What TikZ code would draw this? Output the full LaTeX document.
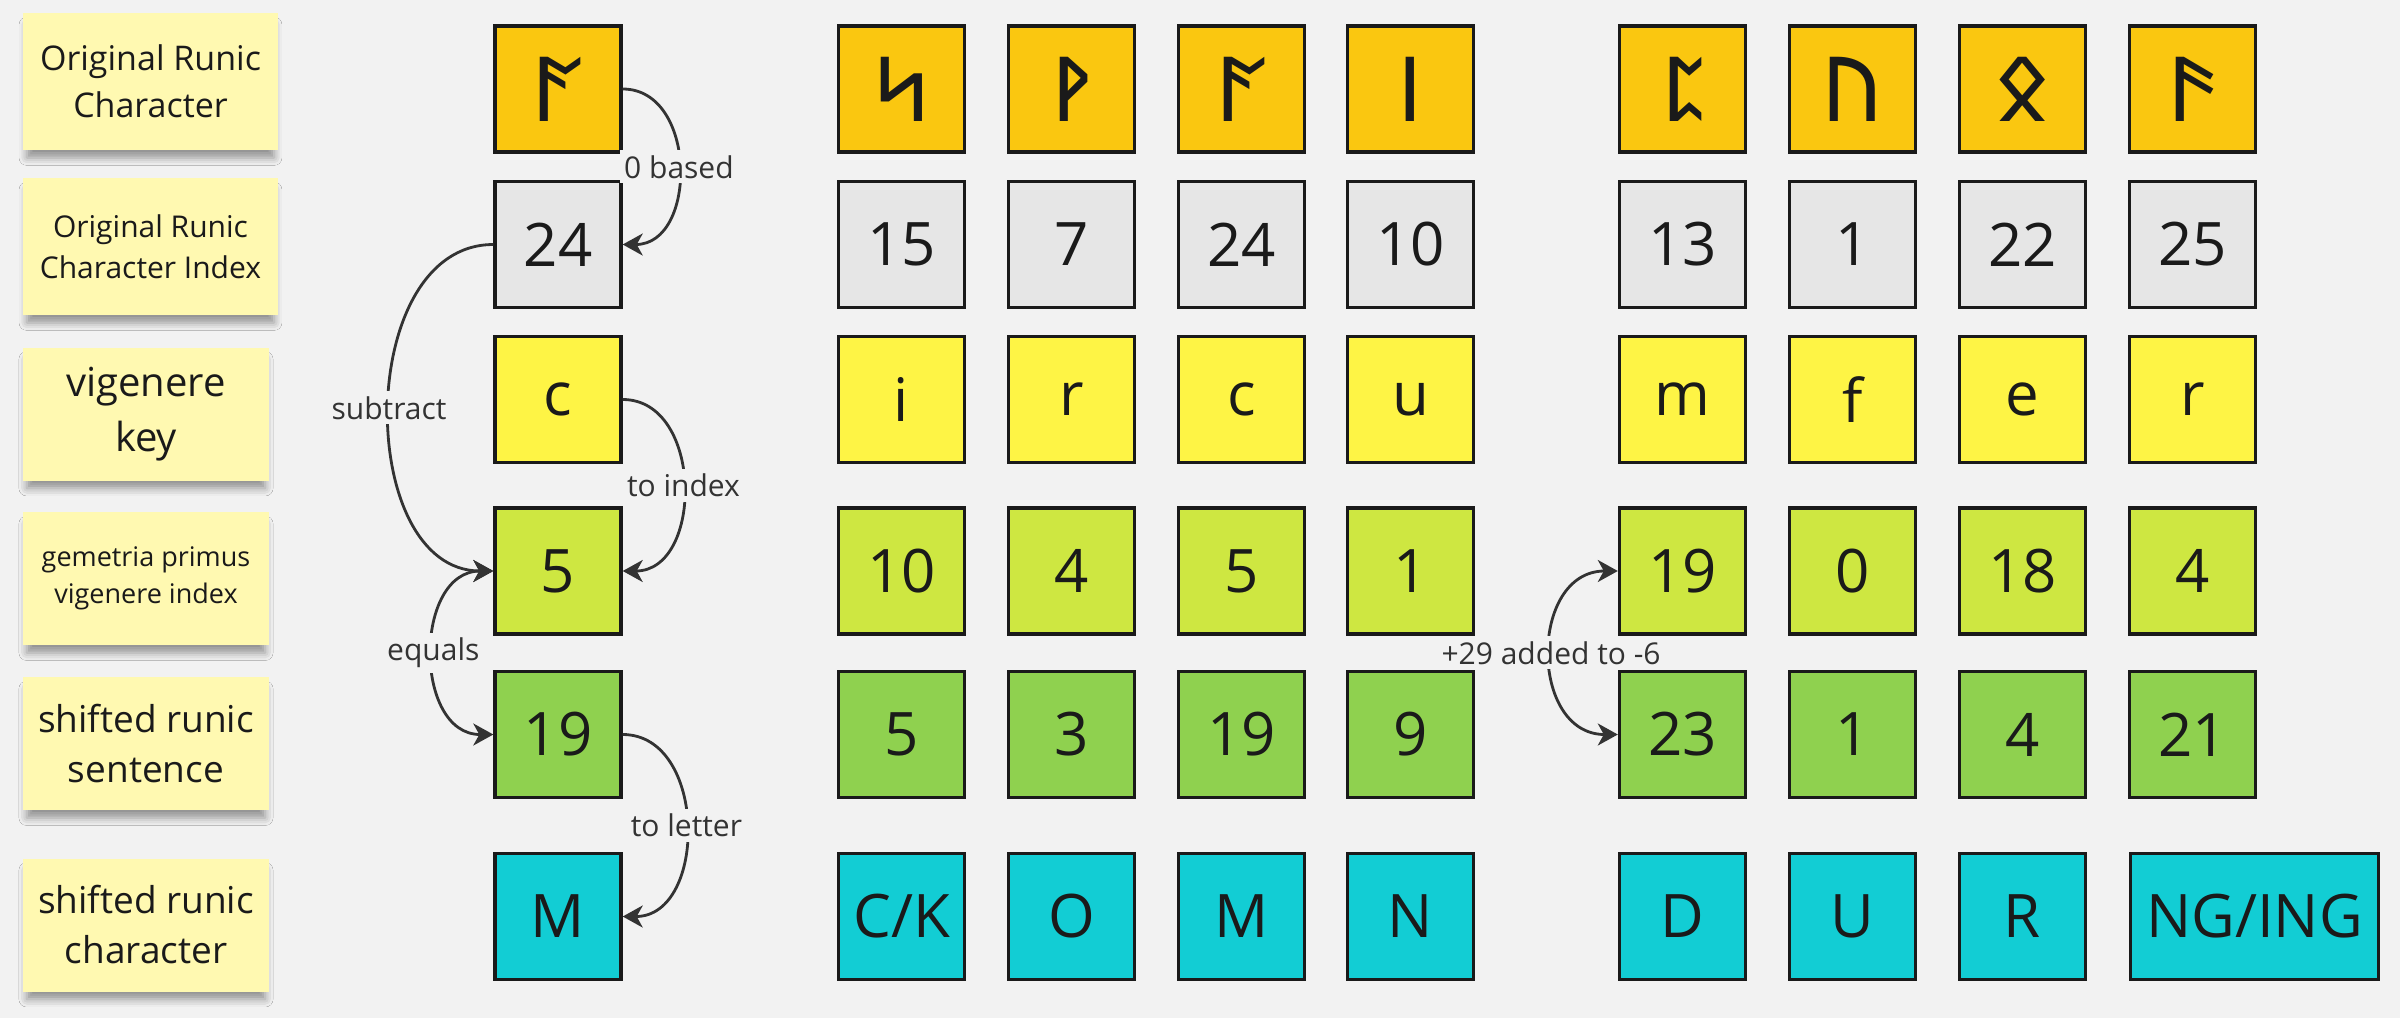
\documentclass[tikz,border=0pt]{standalone}
\usepackage{fontspec}
\setmainfont{Open Sans}
\IfFontExistsTF{Noto Sans Runic}{\newfontfamily\runefont{Noto Sans Runic}}{\newfontfamily\runefont{DejaVu Sans}}
\usetikzlibrary{arrows.meta,shadows.blur}

\definecolor{canvas}{HTML}{F2F2F2}
\definecolor{sticky}{HTML}{FFF9B1}
\definecolor{runeorange}{HTML}{FAC710}
\definecolor{idxgrey}{HTML}{E6E6E6}
\definecolor{keyyellow}{HTML}{FEF445}
\definecolor{gplime}{HTML}{CEE741}
\definecolor{shiftgreen}{HTML}{8FD14F}
\definecolor{lettercyan}{HTML}{12CDD4}
\definecolor{ink}{HTML}{1A1A1A}
\definecolor{wire}{HTML}{333333}

\tikzset{
  tile/.style={draw=ink, line width=1.7pt, minimum width=63pt, minimum height=63pt, inner sep=0pt, text=ink, font=\fontsize{30}{36}\selectfont},
  runetile/.style={tile, fill=runeorange, font=\runefont\fontsize{45}{50}\selectfont},
  idxtile/.style={tile, fill=idxgrey},
  keytile/.style={tile, fill=keyyellow},
  gptile/.style={tile, fill=gplime},
  shifttile/.style={tile, fill=shiftgreen},
  lettertile/.style={tile, fill=lettercyan},
  note/.style={fill=sticky, align=center, text=ink, inner sep=0pt, minimum width=123pt, minimum height=66.5pt,
    blur shadow={shadow xshift=0pt, shadow yshift=-5pt, shadow blur radius=4pt, shadow opacity=40, shadow scale=0.97}},
  widenote/.style={note, minimum width=127.5pt, minimum height=68.5pt},
  link/.style={draw=wire, line width=1.4pt, -{Stealth[length=10pt,width=11pt,inset=3pt]}},
  twolink/.style={link, {Stealth[length=10pt,width=11pt,inset=3pt]}-{Stealth[length=10pt,width=11pt,inset=3pt]}},
  linklabel/.style={fill=canvas, text=wire, font=\fontsize{15}{18}\selectfont, inner xsep=2pt, inner ysep=2.5pt},
}

\begin{document}
\begin{tikzpicture}[x=0.5pt, y=-0.5pt]
  %%%%% START %%%%%

  \useasboundingbox (0,0) rectangle (2400,1018);
  \fill[canvas] (0,0) rectangle (2400,1018);

  % row captions
  \node[widenote, font=\fontsize{17}{23.5}\selectfont] (noteRune) at (150.5,81.5) {Original Runic\\Character};
  \node[widenote, font=\fontsize{15}{20.5}\selectfont] (noteIdx) at (150.5,246.5) {Original Runic\\Character Index};
  \node[note, font=\fontsize{20}{27.5}\selectfont] (noteKey) at (146,414) {vigenere\\key};
  \node[note, font=\fontsize{13.5}{18.5}\selectfont] (noteGp) at (146,578.5) {gemetria primus\\vigenere index};
  \node[note, font=\fontsize{18.5}{25}\selectfont] (noteSft) at (146,743.5) {shifted runic\\sentence};
  \node[note, font=\fontsize{18.5}{25}\selectfont] (noteLtr) at (146,925) {shifted runic\\character};

  % worked example
  \node[runetile] (rune0) at (558,89) {ᚪ};
  \node[idxtile] (idx0) at (558,244.5) {24};
  \node[keytile] (key0) at (558,399.5) {c};
  \node[gptile] (gpi0) at (558,571) {5};
  \node[shifttile] (sft0) at (558,734.5) {19};
  \node[lettertile] (ltr0) at (558,916.5) {M};

  % first word
  \node[runetile] (rune1) at (901.5,89) {ᛋ};
  \node[runetile] (rune2) at (1071.5,89) {ᚹ};
  \node[runetile] (rune3) at (1241.5,89) {ᚪ};
  \node[runetile] (rune4) at (1410.5,89) {ᛁ};
  \node[idxtile] (idx1) at (901.5,244.5) {15};
  \node[idxtile] (idx2) at (1071.5,244.5) {7};
  \node[idxtile] (idx3) at (1241.5,244.5) {24};
  \node[idxtile] (idx4) at (1410.5,244.5) {10};
  \node[keytile] (key1) at (901.5,399.5) {i};
  \node[keytile] (key2) at (1071.5,399.5) {r};
  \node[keytile] (key3) at (1241.5,399.5) {c};
  \node[keytile] (key4) at (1410.5,399.5) {u};
  \node[gptile] (gpi1) at (901.5,571) {10};
  \node[gptile] (gpi2) at (1071.5,571) {4};
  \node[gptile] (gpi3) at (1241.5,571) {5};
  \node[gptile] (gpi4) at (1410.5,571) {1};
  \node[shifttile] (sft1) at (901.5,734.5) {5};
  \node[shifttile] (sft2) at (1071.5,734.5) {3};
  \node[shifttile] (sft3) at (1241.5,734.5) {19};
  \node[shifttile] (sft4) at (1410.5,734.5) {9};
  \node[lettertile] (ltr1) at (901.5,916.5) {C/K};
  \node[lettertile] (ltr2) at (1071.5,916.5) {O};
  \node[lettertile] (ltr3) at (1241.5,916.5) {M};
  \node[lettertile] (ltr4) at (1410.5,916.5) {N};

  % second word
  \node[runetile] (rune5) at (1682.5,89) {ᛈ};
  \node[runetile] (rune6) at (1852.5,89) {ᚢ};
  \node[runetile] (rune7) at (2022.5,89) {ᛟ};
  \node[runetile] (rune8) at (2192.5,89) {ᚫ};
  \node[idxtile] (idx5) at (1682.5,244.5) {13};
  \node[idxtile] (idx6) at (1852.5,244.5) {1};
  \node[idxtile] (idx7) at (2022.5,244.5) {22};
  \node[idxtile] (idx8) at (2192.5,244.5) {25};
  \node[keytile] (key5) at (1682.5,399.5) {m};
  \node[keytile] (key6) at (1852.5,399.5) {f};
  \node[keytile] (key7) at (2022.5,399.5) {e};
  \node[keytile] (key8) at (2192.5,399.5) {r};
  \node[gptile] (gpi5) at (1682.5,571) {19};
  \node[gptile] (gpi6) at (1852.5,571) {0};
  \node[gptile] (gpi7) at (2022.5,571) {18};
  \node[gptile] (gpi8) at (2192.5,571) {4};
  \node[shifttile] (sft5) at (1682.5,734.5) {23};
  \node[shifttile] (sft6) at (1852.5,734.5) {1};
  \node[shifttile] (sft7) at (2022.5,734.5) {4};
  \node[shifttile] (sft8) at (2192.5,734.5) {21};
  \node[lettertile] (ltr5) at (1682.5,916.5) {D};
  \node[lettertile] (ltr6) at (1852.5,916.5) {U};
  \node[lettertile] (ltr7) at (2022.5,916.5) {R};
  \node[lettertile, minimum width=124pt] (ltr8) at (2254.5,916.5) {NG/ING};

  % steps
  \draw[link] (rune0.east) .. controls +(75,0) and +(75,0) .. node[linklabel] {0 based} (idx0.east);
  \draw[link] (idx0.west) .. controls +(-139,0) and +(-139,0) .. node[linklabel] {subtract} (gpi0.west);
  \draw[link] (key0.east) .. controls +(81,0) and +(81,0) .. node[linklabel] {to index} (gpi0.east);
  \draw[twolink] (gpi0.west) .. controls +(-80,0) and +(-80,0) .. node[linklabel] {equals} (sft0.west);
  \draw[link] (sft0.east) .. controls +(85,0) and +(85,0) .. node[linklabel] {to letter} (ltr0.east);
  \draw[twolink] (gpi5.west) .. controls +(-89,0) and +(-89,0) .. node[linklabel] {+29 added to -6} (sft5.west);

  %%%%% END %%%%%
\end{tikzpicture}
\end{document}
